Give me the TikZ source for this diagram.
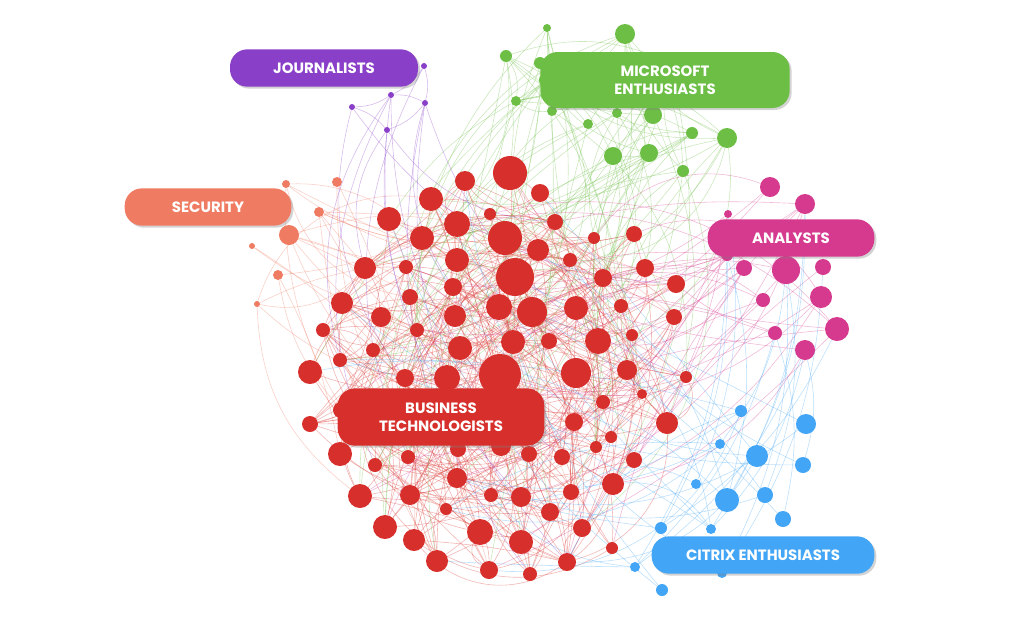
\documentclass[tikz,border=0pt]{standalone}
\usepackage{fontspec}
\setmainfont{Poppins}
\usetikzlibrary{shadows}
\pgfdeclarelayer{bg}\pgfsetlayers{bg,main}
\definecolor{cred}{HTML}{D7302C}
\definecolor{cgreen}{HTML}{6DBE45}
\definecolor{cpurple}{HTML}{8A3FC8}
\definecolor{csalmon}{HTML}{EF7B62}
\definecolor{cmag}{HTML}{D63A8F}
\definecolor{cblue}{HTML}{42A5F5}
\tikzset{
 dot/.style={circle,inner sep=0pt,minimum size=#1},
 edge/.style={draw=#1,opacity=0.35,line width=0.45pt},
 lab/.style={fill=#1,rounded corners=13pt,text=white,font=\fontsize{11.2}{13.5}\selectfont\bfseries,align=center,drop shadow={opacity=0.35,shadow xshift=1.5pt,shadow yshift=-1.5pt},inner sep=0pt}
}
\begin{document}
\begin{tikzpicture}[x=0.75pt,y=-0.75pt]
\useasboundingbox (0,0) rectangle (1024,618);
\pgfmathsetseed{7}
\foreach \x/\y/\r [count=\i] in {510/173/17,465/181/10,540/193/9,431/199/12,389/219/12,457/224/13,490/214/6,555/222/8,505/238/17,422/238/12,538/250/11,594/238/6,634/234/8,365/268/11,406/267/7,457/260/12,515/277/19,570/260/7,603/278/9,645/268/9,453/287/9,410/297/8,342/303/11,499/307/13,532/312/15,576/308/12,621/306/7,676/284/9,381/317/10,455/316/11,323/330/7,417/330/7,513/342/12,549/341/8,598/341/13,632/335/6,674/317/8,373/350/7,460/348/12,340/360/7,405/378/9,447/378/13,500/375/21,576/373/15,627/370/10,686/377/6,310/372/12,642/394/5,341/410/8,310/424/8,603/402/7,574/422/9,667/423/11,611/437/6,375/465/7,408/457/7,340/454/12,458/449/8,501/446/10,529/454/8,562/457/8,596/447/6,634/460/8,457/478/10,360/496/12,410/495/10,491/495/7,521/497/10,571/492/8,613/484/11,446/509/6,385/527/12,480/532/13,550/512/9,582/528/9,414/540/11,521/542/12,437/561/11,489/570/9,530/574/7,567/562/9,612/548/6}
 {\node[dot=1.5*\r pt,fill=cred] (r\i) at (\x,\y) {}; \xdef\nr{\i}}
\foreach \x/\y/\r [count=\i] in {547/28/4,625/34/10,506/56/6,540/63/6,545/80/6,670/62/6,552/111/5,516/101/5,653/115/9,588/124/5,617/113/5,692/133/6,727/138/10,613/156/9,649/153/9,683/171/6}
 {\node[dot=1.5*\r pt,fill=cgreen] (g\i) at (\x,\y) {}; \xdef\ng{\i}}
\foreach \x/\y/\r [count=\i] in {424/66/3,391/95/3,425/103/3,352/107/3,387/130/3}
 {\node[dot=1.5*\r pt,fill=cpurple] (p\i) at (\x,\y) {};}
\foreach \x/\y/\r [count=\i] in {286/184/4,337/182/5,319/212/5,289/235/10,252/246/3,278/275/5,257/304/3}
 {\node[dot=1.5*\r pt,fill=csalmon] (s\i) at (\x,\y) {};}
\foreach \x/\y/\r [count=\i] in {770/187/10,805/204/10,728/214/4,786/270/14,744/268/8,823/267/8,821/297/11,763/300/7,837/329/12,775/333/7,805/350/10,727/255/6}
 {\node[dot=1.5*\r pt,fill=cmag] (m\i) at (\x,\y) {};}
\foreach \x/\y/\r [count=\i] in {741/411/6,806/424/10,720/444/5,757/456/11,803/465/8,696/484/5,727/500/12,765/495/8,783/519/8,711/529/5,661/528/6,635/567/5,662/590/6,722/573/5}
 {\node[dot=1.5*\r pt,fill=cblue] (b\i) at (\x,\y) {};}
\begin{pgfonlayer}{bg}
\foreach \k in {1,...,330}{
 \pgfmathtruncatemacro\a{random(1,\nr)}\pgfmathtruncatemacro\b{random(1,\nr)}\pgfmathtruncatemacro\d{random(-50,50)}
 \draw[edge=cred] (r\a) to[bend left=\d] (r\b);}
\foreach \k in {1,...,70}{
 \pgfmathtruncatemacro\a{random(1,\ng)}\pgfmathtruncatemacro\b{random(1,\nr)}\pgfmathtruncatemacro\d{random(-40,40)}
 \draw[edge=cgreen] (g\a) to[bend left=\d] (r\b);}
\foreach \k in {1,...,30}{
 \pgfmathtruncatemacro\a{random(1,\ng)}\pgfmathtruncatemacro\b{random(1,\ng)}
 \draw[edge=cgreen] (g\a) to[bend left=20] (g\b);}
\foreach \k in {1,...,14}{
 \pgfmathtruncatemacro\a{random(1,5)}\pgfmathtruncatemacro\b{random(1,\nr)}
 \draw[edge=cpurple] (p\a) to[bend right=25] (r\b);}
\foreach \a/\b in {1/2,2/3,2/4,4/5,1/3,3/5}{\draw[edge=cpurple] (p\a) to[bend left=15] (p\b);}
\foreach \k in {1,...,30}{
 \pgfmathtruncatemacro\a{random(1,7)}\pgfmathtruncatemacro\b{random(1,\nr)}\pgfmathtruncatemacro\d{random(-40,40)}
 \draw[edge=csalmon] (s\a) to[bend left=\d] (r\b);}
\foreach \k in {1,...,45}{
 \pgfmathtruncatemacro\a{random(1,12)}\pgfmathtruncatemacro\b{random(1,\nr)}\pgfmathtruncatemacro\d{random(-40,40)}
 \draw[edge=cmag] (m\a) to[bend left=\d] (r\b);}
\foreach \k in {1,...,30}{
 \pgfmathtruncatemacro\a{random(1,14)}\pgfmathtruncatemacro\b{random(1,\nr)}\pgfmathtruncatemacro\d{random(-40,40)}
 \draw[edge=cblue] (b\a) to[bend left=\d] (r\b);}
\foreach \k in {1,...,16}{
 \pgfmathtruncatemacro\a{random(1,14)}\pgfmathtruncatemacro\b{random(1,12)}
 \draw[edge=cblue] (b\a) to[bend right=15] (m\b);}
\end{pgfonlayer}
\node[lab=cpurple,minimum width=141pt,minimum height=28pt] (lj) at (324,68) {JOURNALISTS};
\node[lab=cgreen,minimum width=187pt,minimum height=42pt] (lm) at (665,80) {MICROSOFT\\ENTHUSIASTS};
\node[lab=csalmon,minimum width=125pt,minimum height=28pt] (ls) at (208,207) {SECURITY};
\node[lab=cmag,minimum width=125pt,minimum height=28pt] (la) at (791,238) {ANALYSTS};
\node[lab=cred,minimum width=155pt,minimum height=43pt] (lb) at (441,417) {BUSINESS\\TECHNOLOGISTS};
\node[lab=cblue,minimum width=167pt,minimum height=28pt] (lc) at (763,555) {CITRIX ENTHUSIASTS};
\end{tikzpicture}
\end{document}
